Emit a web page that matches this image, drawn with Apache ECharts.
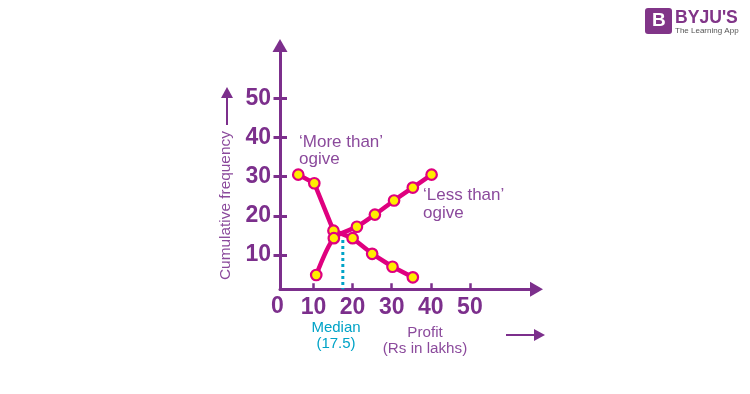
<!DOCTYPE html>
<html><head><meta charset="utf-8">
<style>html,body{margin:0;padding:0;background:#fff}#c{width:750px;height:394px}</style>
<script src="https://cdn.jsdelivr.net/npm/echarts@6/dist/echarts.min.js"></script>
</head><body><div id="c"></div>
<script>
const moreThanX = [6.1, 10.2, 15.1, 20, 25, 30.2, 35.4];
const moreThanY = [30.5, 28.3, 16.2, 14.3, 10.3, 7, 4.3];
const lessThanX = [10.7, 15.2, 21.1, 25.7, 30.6, 35.4, 40.2];
const lessThanY = [4.9, 14.3, 17.2, 20.3, 23.9, 27.2, 30.5];
const medianX = [17.5, 17.5];
const medianY = [13.8, 1.25];
const xTicks = [10, 20, 30, 40, 50];
const yTicks = [10, 20, 30, 40, 50];
const xRange = [1.43, 67.03];
const yRange = [1.25, 63.44];
const zip = (a, b) => a.map((v, i) => [v, b[i]]);

const PURPLE = '#7c2f8c', TXT = '#8b4a9c', BLUE = '#00a3c7', PINK = '#df007f', YEL = '#ffed00';
const FONT = '"Liberation Sans", Arial, sans-serif';
const chart = echarts.init(document.getElementById('c'), null, {renderer: 'canvas'});

const txt = (x, y, text, fill, size, extra) => ({
  type: 'text', x, y, silent: true,
  style: Object.assign({text, fill, font: `${size}px ${FONT}`, textVerticalAlign: 'middle'}, extra || {})
});
const lineEl = (x1, y1, x2, y2, c, w) => ({type: 'line', silent: true, shape: {x1, y1, x2, y2}, style: {stroke: c, lineWidth: w}});
const tri = (pts, c) => ({type: 'polygon', silent: true, shape: {points: pts}, style: {fill: c}});

const lineSeries = (name, xs, ys, smooth) => ({
  name, type: 'line', data: zip(xs, ys), smooth, symbol: 'circle', symbolSize: 10.5, showSymbol: true,
  lineStyle: {color: PINK, width: 4.5}, itemStyle: {color: YEL, borderColor: PINK, borderWidth: 2.2}, z: 5, clip: false, animation: false
});

chart.setOption({
  animation: false,
  backgroundColor: '#fff',
  grid: {left: 280, top: 45.5, width: 256.5, height: 243.8, containLabel: false},
  xAxis: {
    type: 'value', min: xRange[0], max: xRange[1], splitLine: {show: false},
    axisLine: {onZero: false, symbol: ['none', 'triangle'], symbolSize: [15, 13], lineStyle: {color: PURPLE, width: 3}},
    axisTick: {customValues: xTicks, inside: true, length: 6, lineStyle: {color: PURPLE, width: 2.5}},
    axisLabel: {customValues: xTicks, color: PURPLE, fontFamily: FONT, fontSize: 23, fontWeight: 'bold', margin: 7}
  },
  yAxis: [{
    type: 'value', min: yRange[0], max: yRange[1], splitLine: {show: false},
    axisLine: {onZero: false, symbol: ['none', 'triangle'], symbolSize: [15, 13], lineStyle: {color: PURPLE, width: 3}},
    axisTick: {customValues: yTicks, length: 6.5, lineStyle: {color: PURPLE, width: 3}},
    axisLabel: {customValues: yTicks, color: PURPLE, fontFamily: FONT, fontSize: 23, fontWeight: 'bold', margin: 9}
  }, {
    type: 'value', position: 'left', min: yRange[0], max: yRange[1], splitLine: {show: false},
    axisLine: {show: false, onZero: false},
    axisTick: {customValues: yTicks, inside: true, length: 7, lineStyle: {color: PURPLE, width: 3}},
    axisLabel: {show: false}
  }],
  series: [
    lineSeries('More than ogive', moreThanX, moreThanY, false),
    lineSeries('Less than ogive', lessThanX, lessThanY, 0.25),
    {name: 'Median', type: 'line', data: zip(medianX, medianY), symbol: 'none', z: 3, animation: false,
     lineStyle: {color: BLUE, width: 3, type: [3, 3]}}
  ],
  graphic: {elements: [
    txt(271, 307, '0', PURPLE, 23, {font: `bold 23px ${FONT}`}),
    txt(299, 142, '\u2018More than\u2019', TXT, 17),
    txt(299, 159, 'ogive', TXT, 17),
    txt(423, 195, '\u2018Less than\u2019', TXT, 17),
    txt(423, 213, 'ogive', TXT, 17),
    txt(336, 328, 'Median', BLUE, 15, {textAlign: 'center'}),
    txt(336, 344, '(17.5)', BLUE, 15, {textAlign: 'center'}),
    txt(425, 333, 'Profit', TXT, 15.2, {textAlign: 'center'}),
    txt(425, 349, '(Rs in lakhs)', TXT, 15.2, {textAlign: 'center'}),
    {type: 'text', silent: true, x: 226, y: 280, rotation: Math.PI / 2,
     style: {text: 'Cumulative frequency', fill: TXT, font: `15.4px ${FONT}`, textVerticalAlign: 'middle', textAlign: 'left'}},
    lineEl(227, 125, 227, 98, PURPLE, 2),
    tri([[221, 98], [233, 98], [227, 87]], PURPLE),
    lineEl(506, 335, 536, 335, PURPLE, 2),
    tri([[534, 329], [534, 341], [545, 335]], PURPLE),
    {type: 'rect', silent: true, shape: {x: 645, y: 8, width: 27, height: 26, r: 3}, style: {fill: '#813588'}},
    txt(652, 21, 'B', '#fff', 19, {font: `bold 19px ${FONT}`}),
    txt(675, 18, "BYJU'S", '#813588', 17.6, {font: `bold 17.6px ${FONT}`}),
    txt(675, 30.5, 'The Learning App', '#555', 8)
  ]}
});
</script></body></html>
